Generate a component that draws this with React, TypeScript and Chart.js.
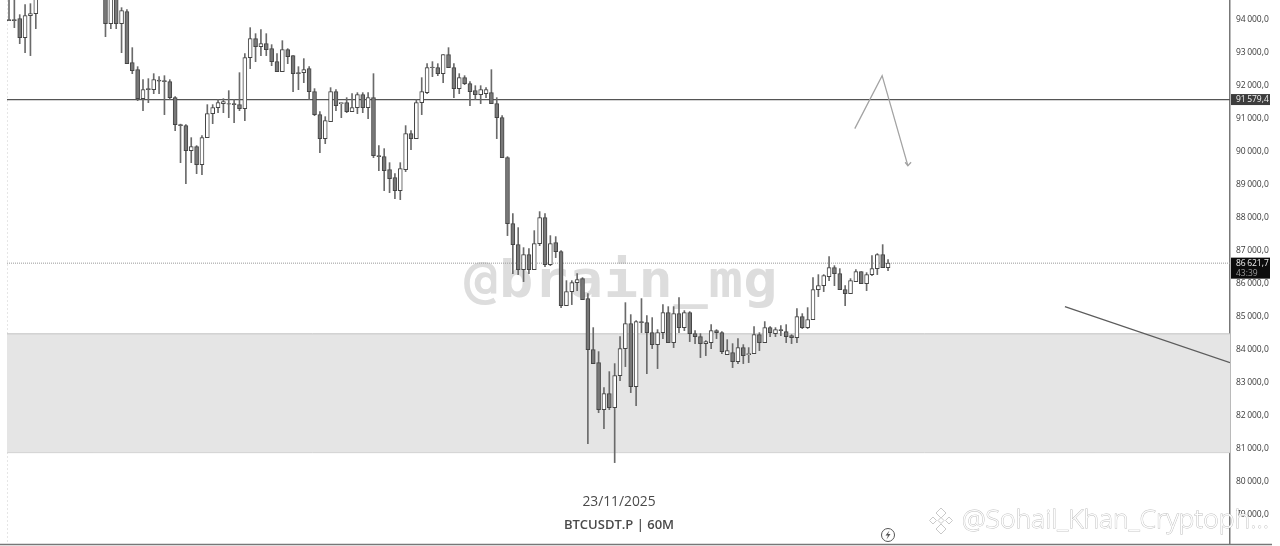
import React, { useEffect, useRef } from "react";
import { Chart, registerables } from "chart.js";

Chart.register(...registerables);

const opens = [94000,94000,94031,93455,94122,94182,94727,94900,95050,95200,95350,95500,95420,95280,95180,95060,94980,94860,94640,93879,94650,93879,94243,92697,92485,91607,91910,91879,92167,92152,92122,91637,90819,90789,90031,90152,89607,90425,91152,91334,91455,91455,91455,91425,91304,92849,93425,93182,93273,93122,92728,92425,93091,92910,92394,92394,92516,91819,91122,90395,90910,91819,91455,91485,91213,91334,91728,91334,91637,89880,89849,89455,89213,88819,89455,90546,90395,91485,91788,92561,92546,92364,92940,92546,91910,92243,92061,91849,91728,91758,91788,91455,91031,89819,87819,87183,86425,86880,86425,87213,88001,86577,87243,86971,85334,85759,86031,86153,85547,84001,83607,82183,82668,82244,83213,84032,84789,82880,84850,84819,84516,84153,84516,85122,84213,85092,84668,85122,84486,84395,84183,84213,84577,84516,83850,83910,83638,84062,83850,83880,84456,84213,84668,84486,84607,84547,84425,84365,85001,84668,84910,85819,85940,86213,86486,86304,85819,85698,86062,86365,86001,86274,86456,86880,86486];
const highs = [94600,94600,94152,94455,94485,94880,95000,95150,95300,95450,95600,95700,95550,95400,95300,95200,95100,95000,94700,94800,94800,94364,94303,93152,92576,92182,92213,92364,92273,92303,92182,91667,90834,90819,90425,90183,90486,91425,91425,91576,91607,91849,91576,92394,92970,93758,93576,93697,93576,93243,92970,93364,93122,92910,92576,92819,92576,91910,91213,91061,91940,91879,91485,91637,91758,91788,91788,91788,92364,90183,90092,89667,89334,89667,90789,90637,91576,92243,92667,92728,92667,92940,93152,92667,92364,92303,92122,92000,92000,91940,92485,91637,91091,89850,88122,87698,87092,87062,87607,88183,88122,87456,87425,87001,86092,86092,86304,86183,85698,84668,83941,82850,83335,83577,84395,85425,85062,84880,85547,85031,84971,84607,85365,85304,85304,85577,85183,85153,84577,84486,84274,84759,84607,84547,84304,84183,84335,84153,84062,84698,84516,84850,84698,84668,84728,84759,84456,85244,85092,85274,86183,86274,86274,86819,86546,86456,85940,86153,86425,86365,86334,86849,86910,87183,86728];
const lows = [93970,93758,93273,93000,92910,93728,94640,94800,94950,95100,95250,95350,95200,95100,95000,94900,94800,94700,93485,93728,93728,93000,92667,92364,91546,91243,91485,91758,91758,91122,91576,90637,89667,89031,89667,89334,89304,90425,90849,91182,91182,91031,90880,91243,90940,92516,92728,92910,92910,92606,92425,92425,92667,91819,91879,92091,91576,91091,89970,90243,90910,91243,91031,91182,91213,91152,91182,91000,89819,89425,88819,88758,88577,88546,89395,90061,90395,91122,91758,92273,92303,92091,92546,91637,91758,92031,91394,91576,91455,91637,91455,90395,89819,87456,86304,86274,86062,86304,86425,87152,86516,86546,86789,85274,85334,85365,85789,85516,81153,83577,82092,81608,82183,80577,83062,83486,82698,82304,84516,83274,84032,83426,84335,84213,84062,84516,84577,84244,84183,83759,83819,84032,84335,83880,83850,83456,83577,83577,83607,83880,83971,84213,84395,84395,84425,84213,84183,84213,84638,84638,84910,85607,85759,86092,85940,85819,85334,85698,86062,86001,85789,86243,86274,86486,86395];
const closes = [93970,93970,93455,94122,94182,94727,94900,95050,95200,95350,95500,95420,95280,95180,95060,94980,94860,94750,93879,94650,93879,94273,92667,92455,91607,91879,91879,92182,92137,92122,91637,90819,90789,90031,90152,89607,90425,91152,91334,91485,91516,91440,91425,91304,92849,93425,93182,93273,93091,92728,92425,93091,92879,92364,92364,92485,91819,91122,90395,90940,91819,91394,91485,91213,91334,91728,91334,91637,89880,89849,89425,89183,88819,89486,90546,90395,91485,91819,92546,92546,92364,92940,92546,91910,92243,92061,91819,91728,91879,91879,91455,91031,89819,87819,87183,86425,86880,86425,87213,88001,86577,87213,86971,85334,85759,86031,86122,85516,84001,83577,82183,82668,82244,83213,84032,84789,82880,84850,84819,84516,84153,84516,85122,84213,85092,84668,85122,84486,84395,84183,84244,84577,84516,83941,83971,83638,84062,83819,83880,84456,84213,84668,84516,84607,84577,84395,84365,85001,84668,84910,85819,85940,86243,86486,86304,85819,85698,86092,86365,86001,86274,86456,86880,86486,86621.7];

const priceTicks = [94000,93000,92000,91000,90000,89000,88000,87000,86000,85000,84000,83000,82000,81000,80000,79000];
const priceMin = 78111;
const priceMax = 94596;
const xFirst = -0.373;
const xLast = 227.8;

const levelResistance = 91579.4;
const levelLast = 86621.7;
const zoneTop = 84480;
const zoneBottom = 80880;

const arrowPath = [
  { x: 157.8, y: 90698 },
  { x: 162.9, y: 92303 },
  { x: 167.7, y: 89576 },
];
const arrowHeadPath = [
  { x: 167.2, y: 89680 },
  { x: 167.7, y: 89576 },
  { x: 168.3, y: 89680 },
];
const trendPath = [
  { x: 197, y: 85304 },
  { x: 227.8, y: 83607 },
];

const dateLabel = "23/11/2025";
const symbolLabel = "BTCUSDT.P | 60M";
const brandLabel = "@brain_mg";
const authorLabel = "@Sohail_Khan_Cryptoph...";
const lastCountdown = "43:39";

const fmt = (v: number, dec = 1) => {
  const [a, b] = v.toFixed(dec).split(".");
  return `${a.slice(0, -3)}\u2009${a.slice(-3)},${b}`;
};

const overlay = {
  id: "overlay",
  beforeDatasetsDraw(chart: any) {
    const { ctx, chartArea: a } = chart;
    ctx.save();
    ctx.translate(464, 297);
    ctx.scale(1, 0.9);
    ctx.font = 'bold 57px "DejaVu Sans Mono"';
    (ctx as any).letterSpacing = "0.6px";
    ctx.textAlign = "left";
    ctx.textBaseline = "alphabetic";
    ctx.fillStyle = "#dddddd";
    ctx.fillText(brandLabel, 0, 0);
    ctx.restore();

    ctx.save();
    ctx.strokeStyle = "#e6e6e6";
    ctx.lineWidth = 1;
    ctx.setLineDash([2, 2]);
    ctx.beginPath();
    ctx.moveTo(a.left + 0.5, a.top);
    ctx.lineTo(a.left + 0.5, a.bottom);
    ctx.stroke();
    ctx.restore();
  },
  afterDraw(chart: any) {
    const { ctx, chartArea: a, scales } = chart;
    const y = scales.y;
    ctx.save();
    ctx.strokeStyle = "#777";
    ctx.lineWidth = 1.5;
    ctx.beginPath();
    ctx.moveTo(0, a.bottom + 0.5);
    ctx.lineTo(1272, a.bottom + 0.5);
    ctx.stroke();

    ctx.textAlign = "left";
    ctx.textBaseline = "middle";
    const ry = y.getPixelForValue(levelResistance);
    ctx.fillStyle = "#3d3d3d";
    ctx.fillRect(1231, ry - 5.5, 39, 11);
    ctx.fillStyle = "#f2f2f2";
    ctx.font = '8.5px "Open Sans"';
    ctx.fillText(fmt(levelResistance), 1236, ry + 0.5);

    const ly = y.getPixelForValue(levelLast);
    ctx.fillStyle = "#0c0c0c";
    ctx.fillRect(1231, ly - 5.5, 39, 21);
    ctx.fillStyle = "#f2f2f2";
    ctx.fillText(fmt(levelLast), 1236, ly + 0.5);
    ctx.fillStyle = "#9a9a9a";
    ctx.fillText(lastCountdown, 1236, ly + 10);

    ctx.textAlign = "center";
    ctx.fillStyle = "#4a4a4a";
    ctx.font = '13.8px "Open Sans"';
    ctx.fillText(dateLabel, 619, 502.5);
    ctx.font = '600 13px "Open Sans"';
    ctx.fillText(symbolLabel, 619, 525);

    ctx.strokeStyle = "#555";
    ctx.lineWidth = 1;
    ctx.beginPath();
    ctx.arc(888, 535, 6.5, 0, Math.PI * 2);
    ctx.stroke();
    ctx.fillStyle = "#555";
    ctx.beginPath();
    ctx.moveTo(889.5, 530.5);
    ctx.lineTo(885.5, 535.5);
    ctx.lineTo(888, 535.5);
    ctx.lineTo(886.5, 539.5);
    ctx.lineTo(890.5, 534);
    ctx.lineTo(888, 534);
    ctx.closePath();
    ctx.fill();

    ctx.strokeStyle = "#c9c9c9";
    ctx.lineWidth = 1;
    const d = (cx: number, cy: number, r: number) => {
      ctx.beginPath();
      ctx.moveTo(cx, cy - r);
      ctx.lineTo(cx + r, cy);
      ctx.lineTo(cx, cy + r);
      ctx.lineTo(cx - r, cy);
      ctx.closePath();
      ctx.fillStyle = "#fff";
      ctx.fill();
      ctx.stroke();
    };
    d(941, 513, 5);
    d(933, 520.5, 3.5);
    d(949, 520.5, 3.5);
    d(941, 520.5, 3);
    d(941, 529, 5);
    ctx.textAlign = "left";
    ctx.font = '300 26.5px "Open Sans"';
    ctx.fillStyle = "#ffffff";
    ctx.strokeStyle = "#bdbdbd";
    ctx.lineWidth = 0.9;
    ctx.strokeText(authorLabel, 962, 520);
    ctx.fillText(authorLabel, 962, 520);
    ctx.restore();
  },
};

export default function App() {
  const ref = useRef<HTMLCanvasElement>(null);
  useEffect(() => {
    const idx = opens.map((_, i) => i);
    const up = (i: number) => closes[i] >= opens[i];
    const chart = new Chart(ref.current!, {
      type: "bar",
      data: {
        datasets: [
          {
            type: "bar",
            label: "wick",
            order: 2,
            grouped: false,
            barThickness: 1,
            borderWidth: 0,
            backgroundColor: "#6a6a6a",
            data: idx.map((i) => ({ x: i, y: [lows[i], highs[i]] })),
          },
          {
            type: "bar",
            label: "body",
            order: 1,
            grouped: false,
            barThickness: 4,
            borderWidth: 1,
            borderSkipped: false,
            borderColor: "#454545",
            backgroundColor: idx.map((i) => (up(i) ? "#ffffff" : "#787878")),
            data: idx.map((i) => ({ x: i, y: [opens[i], closes[i]] })),
          },
          {
            type: "line",
            label: "resistance",
            order: 5,
            borderColor: "#555555",
            borderWidth: 1.2,
            pointRadius: 0,
            data: [{ x: xFirst, y: levelResistance }, { x: xLast, y: levelResistance }],
          },
          {
            type: "line",
            label: "last",
            order: 5,
            borderColor: "#999999",
            borderWidth: 1,
            borderDash: [1, 1],
            pointRadius: 0,
            data: [{ x: xFirst, y: levelLast }, { x: xLast, y: levelLast }],
          },
          {
            type: "line",
            label: "zone",
            order: 6,
            borderColor: "#c2c2c2",
            borderWidth: 1,
            backgroundColor: "#e5e5e5",
            pointRadius: 0,
            fill: { value: zoneBottom },
            data: [{ x: xFirst, y: zoneTop }, { x: xLast, y: zoneTop }],
          },
          {
            type: "line",
            label: "zoneBottom",
            order: 6,
            borderColor: "#c2c2c2",
            borderWidth: 1,
            pointRadius: 0,
            data: [{ x: xFirst, y: zoneBottom }, { x: xLast, y: zoneBottom }],
          },
          {
            type: "line",
            label: "arrow",
            order: 3,
            borderColor: "#a3a3a3",
            borderWidth: 1.3,
            pointRadius: 0,
            data: arrowPath,
          },
          {
            type: "line",
            label: "arrowHead",
            order: 3,
            borderColor: "#a3a3a3",
            borderWidth: 1.3,
            pointRadius: 0,
            data: arrowHeadPath,
          },
          {
            type: "line",
            label: "trend",
            order: 3,
            borderColor: "#5c5c5c",
            borderWidth: 1.2,
            pointRadius: 0,
            data: trendPath,
          },
        ] as any,
      },
      options: {
        responsive: false,
        animation: false,
        devicePixelRatio: 1,
        layout: { padding: { left: 7, top: 0, right: 0, bottom: 2 } },
        plugins: { legend: { display: false }, tooltip: { enabled: false } },
        scales: {
          x: {
            type: "linear",
            display: false,
            min: xFirst,
            max: xLast,
            offset: false,
          },
          y: {
            type: "linear",
            position: "right",
            min: priceMin,
            max: priceMax,
            grid: { display: false, drawTicks: false },
            border: { display: true, color: "#777777", width: 1.5 },
            afterFit: (s: any) => {
              s.width = 50;
              s.paddingTop = 0;
              s.paddingBottom = 0;
            },
            afterBuildTicks: (s: any) => {
              s.ticks = priceTicks.map((value) => ({ value }));
            },
            ticks: {
              autoSkip: false,
              padding: 6,
              color: "#3a3a3a",
              font: { family: '"Open Sans"', size: 8.5 },
              callback: (v: any) => fmt(Number(v)),
            },
          } as any,
        },
      },
      plugins: [overlay],
    } as any);
    return () => chart.destroy();
  }, []);
  return (
    <div style={{ position: "fixed", left: 0, top: 0, width: 1280, height: 546, background: "#fff" }}>
      <canvas ref={ref} width={1280} height={546} style={{ display: "block", filter: "blur(0.35px)" }} />
    </div>
  );
}
